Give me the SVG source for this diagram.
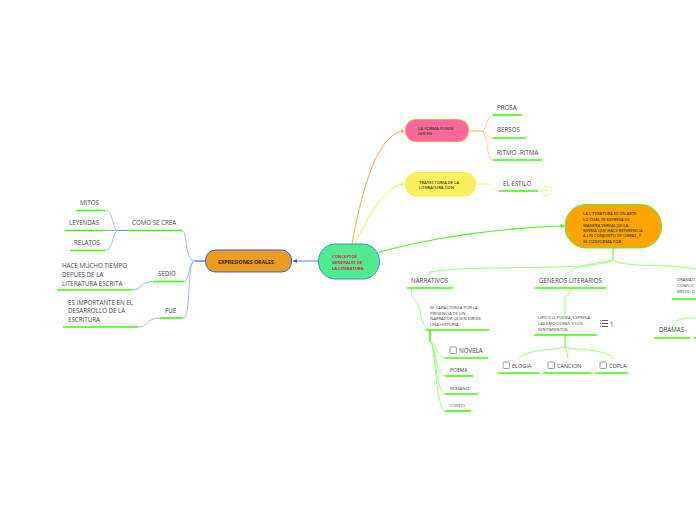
<svg xmlns="http://www.w3.org/2000/svg" width="696" height="520" viewBox="0 0 696 520">
<style>
text{font-family:"Open Sans","Liberation Sans",sans-serif;fill:#444;font-size:6.2px}
.s{font-size:4.2px}
.b{font-weight:600;font-size:4.2px;fill:#3a3a1a}
.l{font-weight:600;font-size:4.05px;fill:#4a3a00}
.p{font-weight:700;font-size:4.2px;fill:#e0204f}
.u{stroke:#3dfa0c;stroke-width:1.6;fill:none}
.bl{stroke:#8fb0ff;stroke-width:.9;fill:none}
.or{stroke:#ffc98a;stroke-width:.9;fill:none}
.gr{stroke:#8ffb6c;stroke-width:.9;fill:none}
.cb{fill:#fff;stroke:#777;stroke-width:.7}
</style>
<rect width="696" height="520" fill="#fff"/>
<g id="connectors">
<path d="M318 261H293" stroke="#8fb0ff" stroke-width="1.6" fill="none"/>
<path d="M293 261l4-2v4z" fill="#2f62e8"/>
<path d="M205 261H195C184 261 188 231 182 231" class="bl"/>
<path d="M205 261H195C188 261 190 281 184 281.500" class="bl"/>
<path d="M205 261H195C186 261 192 318 183 318" class="bl"/>
<path d="M205 261H195" stroke="#6d95f5" stroke-width="1.2" fill="none"/>
<path d="M128 230.500H105" stroke="#5f88f0" stroke-width="1"/>
<path d="M118 230.500C112 230.500 114 210.500 105 210.500" class="bl"/>
<path d="M118 230.500H105" class="bl"/>
<path d="M118 230.500C112 230.500 114 250.500 105 250.500" class="bl"/>
<path d="M153 281.500C140 281.500 142 290 132 290" class="bl"/>
<path d="M160 318C146 318 148 327 138 327" class="bl"/>
<path d="M352 244C360 200 375 135 403 131" stroke="#ffa53a" stroke-width="1" fill="none"/>
<path d="M405 131l-4-2v4z" fill="#ffa53a"/>
<path d="M355 244C367 218 385 186 403 184" stroke="#d6ff3c" stroke-width="1" fill="none"/>
<path d="M405 184l-4-2v4z" fill="#d6ff3c"/>
<path d="M379 252C440 236 500 228 563 226" stroke="#3dfa0c" stroke-width="1.200" fill="none"/>
<path d="M565 226l-4-2v4z" fill="#3dfa0c"/>
<path d="M469 131H481" stroke="#ffb765" stroke-width="1.200"/>
<path d="M481 131C488 130 486 115 493 115" class="or"/>
<path d="M481 131C487 131 487 138 493 138" class="or"/>
<path d="M481 131C488 132 486 160 493 160" class="or"/>
<path d="M476 184H487C493 184 494 191 499 191" stroke="#e0ff66" stroke-width=".9" fill="none"/>
<path d="M538 191H542" stroke="#e0ff66" stroke-width=".9"/>
<path d="M613 248V260" stroke="#55f030" stroke-width=".9"/>
<path d="M613 260C590 272 480 264 430 272C426 273 431 273 430 274" class="gr"/>
<path d="M613 260C605 262 570 266 570 272" class="gr"/>
<path d="M613 260C625 268 660 263 696 269" class="gr"/>
<path d="M571 288C571 298 565 292 565 299V315" class="gr"/>
<path d="M696 318C680 318 672 320 672 330" class="gr"/>
<path d="M411 288C411 304 417 296 420 311C422 325 427 329 430 330" class="gr"/>
<path d="M430 330.500V342" stroke="#3dfa0c" stroke-width="1.600"/>
<path d="M431 342C437 346 438 357 445 358" class="gr"/>
<path d="M431 342C436 350 436 375 445 376" class="gr"/>
<path d="M431 342C436 352 436 392 445 394" class="gr"/>
<path d="M431 342C436 355 436 408 445 411" class="gr"/>
<path d="M565 335V347" stroke="#55f030" stroke-width="1"/>
<path d="M565 347C550 351 525 349 519 359" class="gr"/>
<path d="M565 347C567 350 567 354 568 359" class="gr"/>
<path d="M565 347C580 351 605 348 614 359" class="gr"/>
</g>
<g id="n-center">
<rect x="318.500" y="244" width="61" height="35" rx="17" fill="#50eb8f" stroke="#3d8fd6" stroke-width="1"/>
<text x="332" y="258" class="p">CONCEPTOS</text>
<text x="332" y="263.500" class="p">GENERALES DE</text>
<text x="332" y="269.500" class="p">LA LITERATURA</text>
</g>
<g id="n-expresion">
<rect x="205.500" y="250" width="86" height="22" rx="10" fill="#ee9c1f" stroke="#2d62e0" stroke-width="1"/>
<text x="218" y="263.500" style="font-size:5.200px;font-weight:700;fill:#222">EXPRESIONES ORALES</text>
</g>
<g id="n-comocrea"><text x="132" y="225">COMO SE CREA</text><path d="M128 230.500H182" class="u"/></g>
<g id="n-mitos"><text x="80" y="205">MITOS</text><path d="M76 210.500H105" class="u"/></g>
<g id="n-leyendas"><text x="69" y="225">LEYENDAS</text><path d="M65 230.500H105" class="u"/></g>
<g id="n-relatos"><text x="74" y="245">RELATOS</text><path d="M70 250.500H105" class="u"/></g>
<g id="n-sedio"><text x="158" y="276">SEDIO</text><path d="M153 281.500H184" class="u"/></g>
<g id="n-hace"><text x="62" y="268">HACE MUCHO TIEMPO</text><text x="62" y="276.500">DEPUES DE LA</text><text x="62" y="285.500">LITERATURA ESCRITA</text><path d="M57 290H132" class="u"/></g>
<g id="n-fue"><text x="165" y="313">FUE</text><path d="M160 318H183" class="u"/></g>
<g id="n-es"><text x="68" y="304.500">ES IMPORTANTE EN EL</text><text x="68" y="313">DESARROLLO DE LA</text><text x="68" y="322">ESCRITURA</text><path d="M63 327H138" class="u"/></g>
<g id="n-forma">
<rect x="405.500" y="119.500" width="63" height="22" rx="10" fill="#f7699b" stroke="#ffa53a" stroke-width="1"/>
<text x="418" y="130" class="b">LA FORMA PUEDE</text><text x="418" y="135" class="b">SER EN</text>
</g>
<g id="n-prosa"><text x="497" y="110">PROSA</text><path d="M493 115H522" class="u"/></g>
<g id="n-bersos"><text x="497" y="132">BERSOS</text><path d="M493 138H526" class="u"/></g>
<g id="n-ritmo"><text x="497" y="155">RITMO -RITMA</text><path d="M493 160H542" class="u"/></g>
<g id="n-trayectoria">
<rect x="405.500" y="172.500" width="70" height="23.500" rx="11" fill="#fdee60" stroke="#d6ff3c" stroke-width="1"/>
<text x="419" y="184" class="b">TRAYECTORIA DE LA</text><text x="419" y="189" class="b">LITERATURA  CON</text>
</g>
<g id="n-estilo"><text x="503" y="186">EL ESTILO</text><path d="M499 191H538" class="u"/>
<circle cx="546.500" cy="191" r="4.500" fill="#fff" stroke="#e0ff66" stroke-width="1"/>
<text x="546.500" y="193" text-anchor="middle" style="font-size:4.500px;fill:#d6ee66">3</text></g>
<g id="n-literatura">
<rect x="565" y="204.500" width="96.500" height="43.500" rx="21" fill="#ffa500" stroke="#55f030" stroke-width="1"/>
<text x="583" y="215" class="l">LA LITERATURA ES UN  ARTE</text>
<text x="583" y="220.500" class="l">LO CUAL  SE EXPRESA DE</text>
<text x="583" y="226.500" class="l">MANERA VERVAL,DE LA</text>
<text x="583" y="231.500" class="l">MISMA QUE HACE REFERENCIA</text>
<text x="583" y="237" class="l">A UN  CONJUNTO DE OBRAS, Y</text>
<text x="583" y="242.500" class="l">SE CONFORMA POR</text>
</g>
<g id="n-narrativos"><text x="411" y="283">NARRATIVOS</text><path d="M407 288H453" class="u"/></g>
<g id="n-caract">
<text class="s" x="430" y="309">SE CARACTERIZA POR LA</text><text class="s" x="430" y="314.500">PRESENCIA DE UN</text><text class="s" x="430" y="320">NARRADOR QUIEN DIRIGE</text><text class="s" x="430" y="326">UNA HISTORIA</text>
<path d="M426 330H489" class="u"/></g>
<g id="n-novela"><rect x="450" y="347" width="6.500" height="6.500" rx="1" class="cb"/><text x="459" y="352.500">NOVELA</text><path d="M445 358H488" class="u"/></g>
<g id="n-poema"><text class="s" style="font-size:5px" x="450" y="371.500">POEMA</text><path d="M445 376H473" class="u"/></g>
<g id="n-romance"><text class="s" x="450" y="389.500">ROMANCE</text><path d="M445 394H478" class="u"/></g>
<g id="n-cuento"><text class="s" style="font-size:3.800px" x="450" y="407">CUENTO</text><path d="M445 411H471" class="u"/></g>
<g id="n-generos"><text x="539" y="283">GENEROS LITERARIOS</text><path d="M535 288H606" class="u"/></g>
<g id="n-lirico">
<text class="s" x="538" y="319">LIRICO O POESIA, EXPRESA</text><text class="s" x="538" y="325">LAS EMOCIONES Y LOS</text><text class="s" x="538" y="330.500">SENTIMIENTOS</text>
<path d="M534 335H597" class="u"/>
<path d="M600 320.500h1M602 320.500h6M600 323.500h1M602 323.500h6M600 326.500h1M602 326.500h6" stroke="#333" stroke-width=".8" fill="none"/>
<text x="610" y="326.500">1</text>
</g>
<g id="n-elogia"><rect x="503" y="362" width="6.500" height="6.500" rx="1" class="cb"/><text x="512" y="368" style="font-size:5.500px">ELOGIA</text><path d="M498 373H539" class="u"/></g>
<g id="n-cancion"><rect x="548" y="362" width="6.500" height="6.500" rx="1" class="cb"/><text x="557" y="368" style="font-size:5.500px">CANCION</text><path d="M543 373H591" class="u"/></g>
<g id="n-copla"><rect x="600" y="362" width="6.500" height="6.500" rx="1" class="cb"/><text x="609" y="368" style="font-size:5.500px">COPLA</text><path d="M595 373H628" class="u"/></g>
<g id="n-drama"><text class="s" x="677" y="281">DRAMATI</text><text class="s" x="677" y="287">CONFLIC</text><text class="s" x="677" y="293">MEDIO D</text><path d="M672 299H696" class="u"/></g>
<g id="n-dramas"><text x="659" y="332">DRAMAS</text><path d="M654 338H690M694 338H696" class="u"/></g>
</svg>
